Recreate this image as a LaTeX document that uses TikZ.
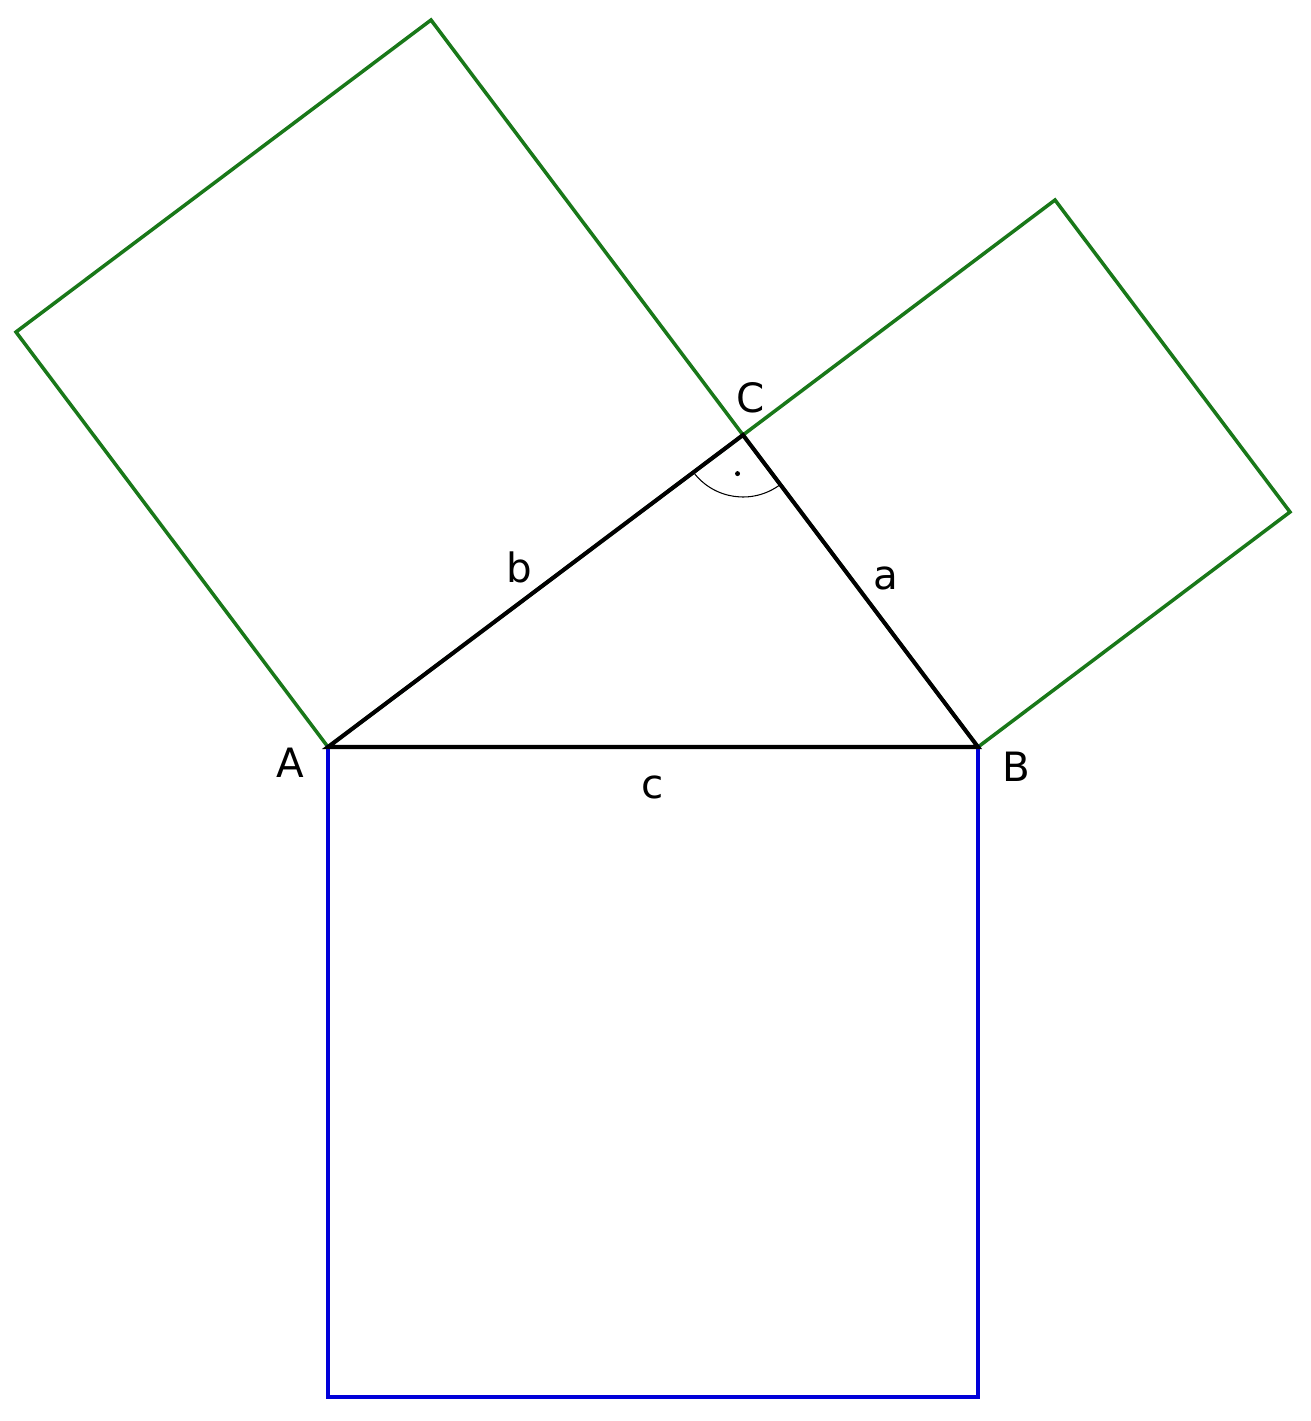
\documentclass[tikz,border=0pt]{standalone}
\usepackage{fontspec}
\setmainfont{DejaVu Sans}
\usetikzlibrary{calc}

\definecolor{sqgreen}{rgb}{0.1,0.47,0.1}
\definecolor{sqblue}{rgb}{0,0,0.85}

\begin{document}
\begin{tikzpicture}
		[x=0.02cm,y=-0.02cm,line join=miter,
		side/.style={draw=black,line width=2.3pt},
		green square/.style={draw=sqgreen,line width=2pt},
		blue square/.style={draw=sqblue,line width=2.3pt},
		lbl/.style={font=\fontsize{23}{27}\selectfont,inner sep=0pt}]
		\useasboundingbox (0,0) rectangle (1311,1421);
		
		% triangle
		\coordinate (A) at (328,747);
		\coordinate (B) at (978,747);
		\coordinate (C) at (743,435);
		
		% squares on the sides
		\coordinate (A1) at ($(A)!1!90:(C)$);
		\coordinate (C1) at ($(C)!1!-90:(A)$);
		\coordinate (C2) at ($(C)!1!90:(B)$);
		\coordinate (B2) at ($(B)!1!-90:(C)$);
		\coordinate (A3) at ($(A)!1!-90:(B)$);
		\coordinate (B3) at ($(B)!1!90:(A)$);
		
		\draw[green square] (A) -- (A1) -- (C1) -- (C) -- cycle;
		\draw[green square] (C) -- (C2) -- (B2) -- (B) -- cycle;
		\draw[blue square] (A) -- (A3) -- (B3) -- (B) -- cycle;
		\draw[side] (A) -- (B) -- (C) -- cycle;
		
		% right angle at C
		\draw[line width=0.6pt] ($(C)!1.24cm!(A)$) arc[start angle=216.94,end angle=306.94,radius=1.24cm];
		\fill ($(C)+(261.94:0.78cm)$) circle (0.05cm);
		
		\node[lbl] (lA) at (290,763) {A};
		\node[lbl] (lB) at (1016,767) {B};
		\node[lbl] (lC) at (751,398) {C};
		\node[lbl] (la) at (886,578) {a};
		\node[lbl] (lb) at (519,567) {b};
		\node[lbl] (lc) at (653,787) {c};
\end{tikzpicture}
\end{document}
